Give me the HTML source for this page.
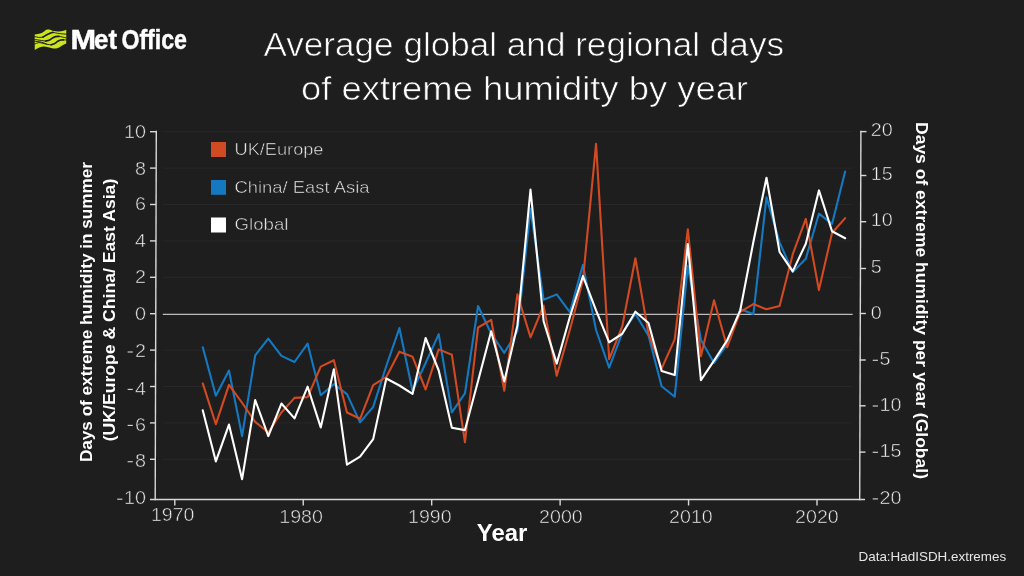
<!DOCTYPE html>
<html><head><meta charset="utf-8"><title>Average global and regional days of extreme humidity by year</title>
<style>
html,body{margin:0;padding:0;background:#1e1e1e;}
body{width:1024px;height:576px;overflow:hidden;font-family:"Liberation Sans",sans-serif;}
svg{display:block;will-change:transform;font-family:"Liberation Sans",sans-serif;}
.thin{stroke:#1e1e1e;stroke-width:0.55px;paint-order:fill stroke;}
.tick text{font-size:18.5px;fill:#f0f0f0;}
.tick line{stroke:#cfcfcf;stroke-width:1.15;}
.leg text{font-size:17px;fill:#f0f0f0;}
.ax line{stroke:#d8d8d8;stroke-width:1.4;}
.grid line{stroke:#282828;stroke-width:1;}
.ser polyline{fill:none;stroke-width:2.1;stroke-linejoin:round;stroke-linecap:round;}
</style></head>
<body>
<svg width="1024" height="576" viewBox="0 0 1024 576">
<rect width="1024" height="576" fill="#1e1e1e"/>

<!-- logo -->
<g id="logo"><path d="M34.74,34.60 C35.90,34.35 39.82,33.87 41.70,33.10 C43.58,32.33 44.77,30.59 46.00,30.00 C47.23,29.41 47.80,29.37 49.10,29.55 C50.40,29.73 52.14,30.79 53.80,31.10 C55.46,31.41 57.45,31.47 59.05,31.40 C60.65,31.33 62.20,30.97 63.40,30.70 C64.60,30.43 65.78,29.95 66.25,29.80 L66.25,43.40 C65.62,43.70 63.70,44.53 62.50,45.20 C61.30,45.87 60.20,46.85 59.05,47.40 C57.90,47.95 56.76,48.35 55.60,48.50 C54.44,48.65 53.33,48.52 52.10,48.30 C50.87,48.08 49.57,47.50 48.20,47.20 C46.83,46.90 45.28,46.50 43.90,46.50 C42.52,46.50 41.07,46.83 39.90,47.20 C38.73,47.57 37.76,48.25 36.90,48.70 C36.04,49.15 35.10,49.70 34.74,49.90 Z" fill="#cbe41b"/><g fill="none" stroke="#1e1e1e" stroke-linecap="round"><path stroke-width="1.7" d="M43.00,37.10 C43.72,36.68 46.07,35.27 47.30,34.60 C48.53,33.93 49.45,33.47 50.40,33.10 C51.35,32.73 52.57,32.52 53.00,32.40"/><path stroke-width="1.7" d="M45.60,41.10 C46.25,40.92 48.35,40.53 49.50,40.00 C50.65,39.47 51.48,38.48 52.50,37.90 C53.52,37.32 54.51,36.82 55.60,36.55 C56.69,36.28 58.47,36.34 59.05,36.30"/><path stroke-width="1.7" d="M51.20,44.80 C51.78,44.58 53.61,44.08 54.70,43.50 C55.79,42.92 56.73,41.88 57.75,41.30 C58.77,40.72 59.86,40.25 60.80,40.00 C61.74,39.75 62.97,39.83 63.40,39.80"/><path stroke-width="0.95" d="M34.74,36.50 C35.38,36.65 37.22,37.30 38.60,37.40 C39.98,37.50 42.27,37.15 43.00,37.10"/><path stroke-width="0.95" d="M53.00,32.40 C54.01,32.58 56.84,33.20 59.05,33.50 C61.26,33.80 65.05,34.08 66.25,34.20"/><path stroke-width="0.95" d="M34.74,39.50 C35.90,39.67 39.89,40.23 41.70,40.50 C43.51,40.77 44.95,41.00 45.60,41.10"/><path stroke-width="0.95" d="M59.05,36.30 C60.25,36.57 65.05,37.63 66.25,37.90"/><path stroke-width="0.95" d="M34.74,44.15 C35.38,43.89 37.22,42.74 38.60,42.60 C39.98,42.46 41.55,43.00 43.00,43.30 C44.45,43.60 45.93,44.15 47.30,44.40 C48.67,44.65 50.55,44.73 51.20,44.80"/><path stroke-width="0.95" d="M63.40,39.80 C63.88,39.83 65.78,39.97 66.25,40.00"/><path stroke-width="0.95" d="M34.74,41.30 C35.90,41.45 39.61,41.68 41.70,42.20 C43.79,42.72 46.37,44.03 47.30,44.40"/></g></g>
<g font-size="27.8" font-weight="bold" fill="#ffffff" stroke="#ffffff" stroke-width="0.45" stroke-linejoin="round">
<text x="70.6" y="49.3" textLength="25.6" lengthAdjust="spacingAndGlyphs">M</text>
<text x="94" y="49.3" textLength="23" lengthAdjust="spacingAndGlyphs">et</text>
<text x="121.4" y="49.3" textLength="65.6" lengthAdjust="spacingAndGlyphs">Office</text>
</g>

<!-- title -->
<g font-size="33.5" fill="#ffffff" stroke="#1e1e1e" stroke-width="0.7">
<text x="263.5" y="55.5" textLength="520.5" lengthAdjust="spacingAndGlyphs">Average global and regional days</text>
<text x="301" y="99.5" textLength="447" lengthAdjust="spacingAndGlyphs">of extreme humidity by year</text>
</g>

<!-- grid -->
<g class="grid"><line x1="163" x2="852.5" y1="131.70" y2="131.70"/><line x1="163" x2="852.5" y1="168.10" y2="168.10"/><line x1="163" x2="852.5" y1="204.50" y2="204.50"/><line x1="163" x2="852.5" y1="240.90" y2="240.90"/><line x1="163" x2="852.5" y1="277.30" y2="277.30"/><line x1="163" x2="852.5" y1="350.10" y2="350.10"/><line x1="163" x2="852.5" y1="386.50" y2="386.50"/><line x1="163" x2="852.5" y1="422.90" y2="422.90"/><line x1="163" x2="852.5" y1="459.30" y2="459.30"/></g>
<line x1="162.8" x2="852.7" y1="314.45" y2="314.45" stroke="#bcbcbc" stroke-width="1.2"/>

<!-- axes -->
<g class="ax">
<line x1="156.3" y1="130.8" x2="155.2" y2="500.2"/>
<line x1="860.9" y1="130.8" x2="859.7" y2="500.2"/>
<line x1="150" y1="499.5" x2="865" y2="499.5"/>
<line x1="150" x2="156" y1="131.70" y2="131.70"/><line x1="150" x2="156" y1="168.10" y2="168.10"/><line x1="150" x2="156" y1="204.50" y2="204.50"/><line x1="150" x2="156" y1="240.90" y2="240.90"/><line x1="150" x2="156" y1="277.30" y2="277.30"/><line x1="150" x2="156" y1="313.70" y2="313.70"/><line x1="150" x2="156" y1="350.10" y2="350.10"/><line x1="150" x2="156" y1="386.50" y2="386.50"/><line x1="150" x2="156" y1="422.90" y2="422.90"/><line x1="150" x2="156" y1="459.30" y2="459.30"/><line x1="860.40" x2="866.50" y1="131.60" y2="131.60"/><line x1="860.25" x2="866.35" y1="175.50" y2="175.50"/><line x1="860.10" x2="866.20" y1="221.70" y2="221.70"/><line x1="859.95" x2="866.05" y1="268.50" y2="268.50"/><line x1="859.81" x2="865.91" y1="313.50" y2="313.50"/><line x1="859.66" x2="865.76" y1="360.00" y2="360.00"/><line x1="859.51" x2="865.61" y1="405.80" y2="405.80"/><line x1="859.36" x2="865.46" y1="452.10" y2="452.10"/><line x1="174.80" x2="174.80" y1="499.5" y2="505.5"/><line x1="303.24" x2="303.24" y1="499.5" y2="505.5"/><line x1="431.68" x2="431.68" y1="499.5" y2="505.5"/><line x1="560.12" x2="560.12" y1="499.5" y2="505.5"/><line x1="688.56" x2="688.56" y1="499.5" y2="505.5"/><line x1="817.00" x2="817.00" y1="499.5" y2="505.5"/>
</g>

<!-- tick labels -->
<g class="tick thin"><text transform="translate(145.9,137.50) scale(1.07,1)" text-anchor="end">10</text><text transform="translate(145.9,174.50) scale(1.07,1)" text-anchor="end">8</text><text transform="translate(145.9,210.10) scale(1.07,1)" text-anchor="end">6</text><text transform="translate(145.9,247.00) scale(1.07,1)" text-anchor="end">4</text><text transform="translate(145.9,283.00) scale(1.07,1)" text-anchor="end">2</text><text transform="translate(145.9,320.00) scale(1.07,1)" text-anchor="end">0</text><text transform="translate(145.9,357.10) scale(1.07,1)" text-anchor="end">2</text><line x1="127.6" x2="132.79999999999998" y1="352.00" y2="352.00"/><text transform="translate(145.9,394.50) scale(1.07,1)" text-anchor="end">4</text><line x1="127.6" x2="132.79999999999998" y1="389.40" y2="389.40"/><text transform="translate(145.9,430.50) scale(1.07,1)" text-anchor="end">6</text><line x1="127.6" x2="132.79999999999998" y1="425.40" y2="425.40"/><text transform="translate(145.9,466.80) scale(1.07,1)" text-anchor="end">8</text><line x1="127.6" x2="132.79999999999998" y1="461.70" y2="461.70"/><text transform="translate(145.9,504.30) scale(1.07,1)" text-anchor="end">10</text><line x1="117.2" x2="122.4" y1="499.20" y2="499.20"/><text transform="translate(870.8,135.90) scale(1.07,1)">20</text><text transform="translate(870.8,179.70) scale(1.07,1)">15</text><text transform="translate(870.8,226.40) scale(1.07,1)">10</text><text transform="translate(870.8,273.00) scale(1.07,1)">5</text><text transform="translate(870.8,319.00) scale(1.07,1)">0</text><line x1="872.7" x2="878" y1="360.30" y2="360.30"/><text transform="translate(879.4,365.40) scale(1.07,1)">5</text><line x1="872.7" x2="878" y1="406.00" y2="406.00"/><text transform="translate(879.4,411.10) scale(1.07,1)">10</text><line x1="872.7" x2="878" y1="452.30" y2="452.30"/><text transform="translate(879.4,457.40) scale(1.07,1)">15</text><line x1="872.7" x2="878" y1="498.90" y2="498.90"/><text transform="translate(879.4,504.00) scale(1.07,1)">20</text><text x="150.9" y="521.4" textLength="43.6" lengthAdjust="spacingAndGlyphs">1970</text><text x="279.3" y="522.5" textLength="43.6" lengthAdjust="spacingAndGlyphs">1980</text><text x="408.0" y="523.2" textLength="43.6" lengthAdjust="spacingAndGlyphs">1990</text><text x="539.1" y="523.4" textLength="43.6" lengthAdjust="spacingAndGlyphs">2000</text><text x="669.1" y="523.4" textLength="43.6" lengthAdjust="spacingAndGlyphs">2010</text><text x="795.1" y="522.5" textLength="43.6" lengthAdjust="spacingAndGlyphs">2020</text></g>

<!-- legend -->
<g class="leg">
<rect x="211" y="142" width="15" height="15" fill="#d04a22"/>
<rect x="211" y="180" width="15" height="14.8" fill="#1479c0"/>
<rect x="211" y="217.5" width="15" height="15" fill="#ffffff"/>
<g class="thin">
<text x="234.5" y="155" textLength="89" lengthAdjust="spacingAndGlyphs">UK/Europe</text>
<text x="234.5" y="192.9" textLength="135" lengthAdjust="spacingAndGlyphs">China/ East Asia</text>
<text x="234.5" y="230.2" textLength="54" lengthAdjust="spacingAndGlyphs">Global</text>
</g>
</g>

<!-- series -->
<g class="ser">
<polyline stroke="#1479c0" points="202.75,347.25 215.86,395.80 228.97,370.55 242.08,436.10 255.19,355.30 268.30,338.70 281.41,355.90 294.52,362.00 307.63,343.70 320.74,395.20 333.85,384.20 346.96,394.10 360.07,422.40 373.18,406.90 386.29,366.00 399.40,328.05 412.51,391.00 425.62,363.00 438.73,334.10 451.84,412.30 464.95,393.40 478.06,306.00 491.17,333.50 504.28,352.80 517.39,331.25 530.50,208.90 543.61,299.80 556.72,294.40 569.83,312.20 582.94,264.90 596.05,330.00 609.16,367.60 622.27,332.80 635.38,313.80 648.49,335.60 661.60,386.25 674.71,396.70 687.82,265.80 700.93,340.00 714.04,362.95 727.15,344.10 740.26,309.30 753.37,314.10 766.48,197.40 779.59,242.30 792.70,271.95 805.81,258.70 818.92,213.70 832.03,223.90 845.14,171.60"/>
<polyline stroke="#d04a22" points="202.75,383.40 215.86,424.20 228.97,384.80 242.08,402.75 255.19,421.90 268.30,432.50 281.41,412.50 294.52,397.90 307.63,397.10 320.74,366.60 333.85,360.20 346.96,412.50 360.07,418.80 373.18,385.20 386.29,376.90 399.40,351.70 412.51,356.70 425.62,389.50 438.73,349.40 451.84,354.70 464.95,442.30 478.06,327.50 491.17,319.80 504.28,390.80 517.39,294.40 530.50,337.30 543.61,305.50 556.72,375.80 569.83,330.00 582.94,280.00 596.05,143.90 609.16,359.20 622.27,326.25 635.38,258.30 648.49,333.75 661.60,368.60 674.71,339.40 687.82,229.20 700.93,356.20 714.04,300.30 727.15,347.20 740.26,311.90 753.37,304.10 766.48,309.30 779.59,306.00 792.70,254.40 805.81,218.90 818.92,290.10 832.03,233.00 845.14,218.10"/>
<polyline stroke="#ffffff" points="202.75,410.25 215.86,461.40 228.97,424.55 242.08,479.20 255.19,400.00 268.30,436.10 281.41,403.55 294.52,418.40 307.63,386.70 320.74,427.40 333.85,369.20 346.96,464.60 360.07,456.60 373.18,439.10 386.29,378.50 399.40,385.50 412.51,393.95 425.62,338.00 438.73,370.50 451.84,427.75 464.95,430.10 478.06,381.00 491.17,331.30 504.28,381.40 517.39,325.50 530.50,189.55 543.61,321.25 556.72,363.60 569.83,317.00 582.94,276.10 596.05,310.30 609.16,342.30 622.27,333.75 635.38,311.70 648.49,323.00 661.60,370.90 674.71,375.10 687.82,244.10 700.93,380.20 714.04,360.60 727.15,340.40 740.26,310.30 753.37,242.00 766.48,177.70 779.59,252.00 792.70,271.40 805.81,243.70 818.92,190.40 832.03,231.25 845.14,238.20"/>
</g>

<!-- axis titles -->
<g font-weight="bold" fill="#ffffff" font-size="16.8">
<text transform="translate(92.1,312.1) rotate(-90)" text-anchor="middle" textLength="300" lengthAdjust="spacingAndGlyphs">Days of extreme humidity in summer</text>
<text transform="translate(115,310) rotate(-90)" text-anchor="middle" textLength="262.5" lengthAdjust="spacingAndGlyphs">(UK/Europe &amp; China/ East Asia)</text>
<text transform="translate(915.6,300.5) rotate(90)" text-anchor="middle" textLength="357" lengthAdjust="spacingAndGlyphs">Days of extreme humidity per year (Global)</text>
<text x="476.8" y="540.9" font-size="23" textLength="50.6" lengthAdjust="spacingAndGlyphs">Year</text>
</g>

<!-- credit -->
<text x="858.5" y="560.7" font-size="12.6" fill="#e6e6e6" textLength="147.7" lengthAdjust="spacingAndGlyphs">Data:HadISDH.extremes</text>
</svg>
</body></html>
